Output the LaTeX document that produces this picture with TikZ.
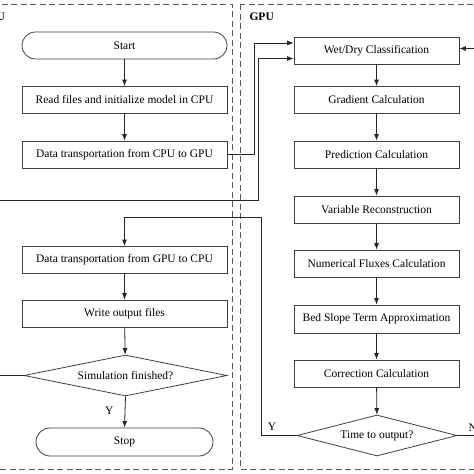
\documentclass[tikz,border=0pt]{standalone}
\usepackage{fontspec}
\setmainfont{Liberation Serif}
\usetikzlibrary{arrows.meta,shapes.geometric,calc}
\begin{document}
\begin{tikzpicture}[x=1pt,y=-1pt,
  every node/.style={font=\fontsize{11.5}{13}\selectfont},
  proc/.style={draw=black!75,line width=0.8pt,rectangle,minimum width=205pt,minimum height=27pt,inner sep=0pt},
  gproc/.style={proc,minimum width=165pt},
  term/.style={proc,rounded corners=13.5pt},
  dec/.style={draw=black!75,line width=0.8pt,diamond,aspect=5,inner sep=0pt,minimum width=203pt,minimum height=41pt},
  lane/.style={draw=black!65,line width=0.8pt,dash pattern=on 6pt off 3.5pt},
  arr/.style={draw=black!85,line width=0.8pt,-{Latex[length=6.5pt,width=5pt]}},
  lbl/.style={font=\fontsize{11.5}{13}\selectfont\bfseries}]
\useasboundingbox (0,0) rectangle (474,474);
\clip (0,0) rectangle (474,474);
\fill[white] (0,0) rectangle (474,474);
% lanes
\draw[lane] (-10,4) rectangle (232,469);
\draw[lane] (240,4) rectangle (490,469);
\node[lbl,anchor=east] (cpulbl) at (8.5,17) {CPU};
\node[lbl,anchor=west] (gpulbl) at (246,17) {GPU};
% CPU nodes
\node[term] (start) at (124.5,45.5) {Start};
\node[proc] (read) at (124.5,100) {Read files and initialize model in CPU};
\node[proc] (c2g) at (124.5,154.5) {Data transportation from CPU to GPU};
\node[proc] (g2c) at (124.5,260) {Data transportation from GPU to CPU};
\node[proc] (write) at (124.5,313.5) {Write output files};
\node[dec] (sim) at (125.5,375.5) {Simulation finished?};
\node[term,minimum width=177pt,minimum height=28pt,rounded corners=14pt] (stop) at (124.5,442) {Stop};
% GPU nodes
\node[gproc] (wet) at (376.5,50.5) {Wet/Dry Classification};
\node[gproc] (grad) at (376.5,100) {Gradient Calculation};
\node[gproc] (pred) at (376.5,154.5) {Prediction Calculation};
\node[gproc] (var) at (376.5,209.5) {Variable Reconstruction};
\node[gproc] (num) at (376.5,263.5) {Numerical Fluxes Calculation};
\node[gproc,minimum height=28pt] (bed) at (376.5,319) {Bed Slope Term Approximation};
\node[gproc] (corr) at (376.5,373.5) {Correction Calculation};
\node[dec,minimum width=160pt] (time) at (377,435.5) {Time to output?};
% coordinates
\coordinate (loopL) at (-10,200);
\coordinate (jl) at (258,200);
\coordinate (jy) at (261,217);
\coordinate (loopR) at (495,435.5);
% CPU arrows
\draw[arr] (start) -- (read);
\draw[arr] (read) -- (c2g);
\draw[arr] (c2g.east) -- ++(26.5,0) |- ([yshift=7.5pt]wet.west);
\draw[arr] (g2c) -- (write);
\draw[arr] (write) -- (sim);
\draw[arr] (sim.south) -- node[left,pos=0.45,xshift=-8pt] (ylab1) {Y} (stop.north);
\draw[arr] (sim.west) -| (loopL) -- (jl) |- ([yshift=-8pt]wet.west);
% GPU arrows
\draw[arr] (wet) -- (grad);
\draw[arr] (grad) -- (pred);
\draw[arr] (pred) -- (var);
\draw[arr] (var) -- (num);
\draw[arr] (num) -- (bed);
\draw[arr] (bed) -- (corr);
\draw[arr] (corr) -- (time);
\draw[arr] (time.west) -| (jy) -| (g2c.north);
\node (ylab2) at (272,427) {Y};
\draw[arr] (time.east) -- (loopR) |- ([yshift=2pt]wet.east);
\node[anchor=west] (nlab) at (465,428) {N};
\end{tikzpicture}
\end{document}
